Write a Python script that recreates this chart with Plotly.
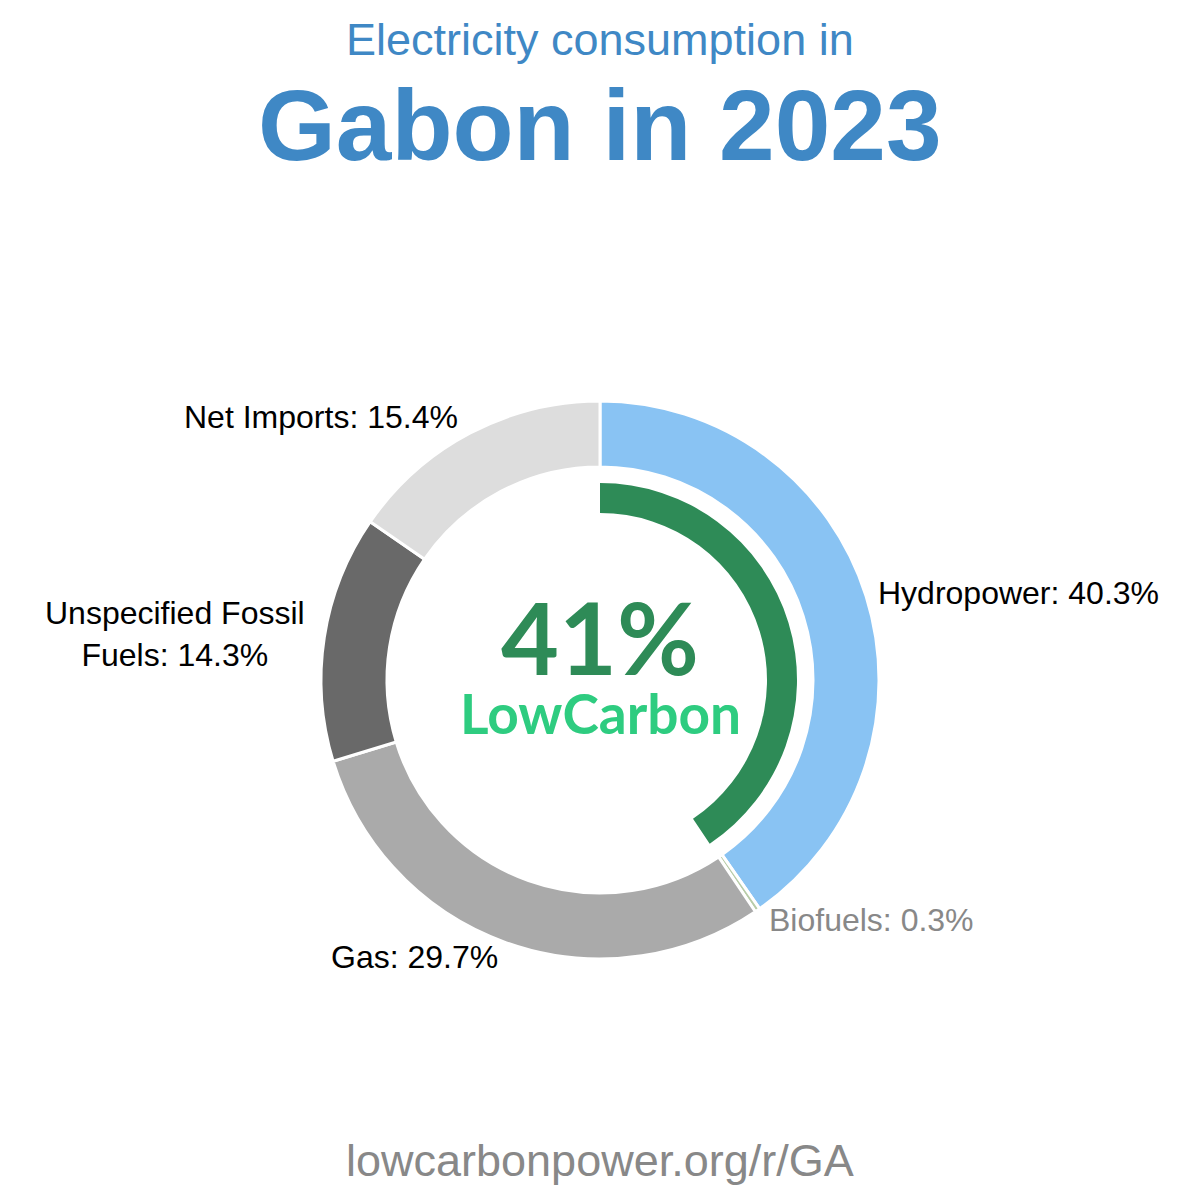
import plotly.graph_objects as go

labels = ["Hydropower", "Biofuels", "Gas", "Unspecified Fossil Fuels", "Net Imports"]
values = [40.3, 0.3, 29.7, 14.3, 15.4]
colors = ["#89C3F3", "#B8CCA8", "#AAAAAA", "#696969", "#DDDDDD"]
low_carbon_share = [40.6, 59.4]
low_carbon_text = "41%"

W = H = 1200
OFF = 8  # page body margin offset
cx, cy = 600 - OFF, 680 - OFF
r_out, r_in = 279, 213
g_out, g_in = 197, 167


def dom(r):
    return dict(x=[(cx - r) / W, (cx + r) / W],
                y=[1 - (cy + r) / H, 1 - (cy - r) / H])


fig = go.Figure()
fig.add_trace(go.Pie(
    labels=labels, values=values, sort=False, direction="clockwise",
    rotation=0, hole=r_in / r_out, domain=dom(r_out),
    marker=dict(colors=colors, line=dict(color="white", width=3)),
    textinfo="none", hoverinfo="label+percent", showlegend=False,
))
fig.add_trace(go.Pie(
    labels=["Low carbon", "Other"], values=low_carbon_share, sort=False,
    direction="clockwise", rotation=0, hole=g_in / g_out, domain=dom(g_out),
    marker=dict(colors=["#2E8B57", "rgba(0,0,0,0)"], line=dict(width=0)),
    textinfo="none", hoverinfo="skip", showlegend=False,
))


def px(x, y):
    return (x - OFF) / W, 1 - (y - OFF) / H


label_font = dict(family="Liberation Sans, Arial", size=32, color="black")
ann = []
lbls = [
    ("Hydropower: 40.3%", 876, 593, "left", "black"),
    ("Biofuels: 0.3%", 767, 920, "left", "#888888"),
    ("Gas: 29.7%", 414, 957, "center", "black"),
    ("Unspecified Fossil<br>Fuels: 14.3%", 175, 634, "center", "black"),
    ("Net Imports: 15.4%", 460, 417, "right", "black"),
]
for t, x, y, al, col in lbls:
    xx, yy = px(x, y)
    ann.append(dict(text=t, x=xx, y=yy, xref="paper", yref="paper",
                    xanchor=al, yanchor="middle", align="center",
                    showarrow=False, font=dict(label_font, color=col)))

xx, yy = px(600, 40)
ann.append(dict(text="Electricity consumption in", x=xx, y=yy, xref="paper", yref="paper",
                xanchor="center", yanchor="middle", showarrow=False,
                font=dict(family="Liberation Sans, Arial", size=45, color="#3F88C5")))
xx, yy = px(600, 125)
ann.append(dict(text="<b>Gabon in 2023</b>", x=xx, y=yy, xref="paper", yref="paper",
                xanchor="center", yanchor="middle", showarrow=False,
                font=dict(family="Liberation Sans, Arial", size=100, color="#3F88C5")))
xx, yy = px(600, 636)
ann.append(dict(text="<b>" + low_carbon_text + "</b>", x=xx, y=yy, xref="paper", yref="paper",
                xanchor="center", yanchor="middle", showarrow=False, borderpad=0,
                font=dict(family="Lato", size=100, color="#2E8B57", weight=900)))
xx, yy = px(600, 713)
ann.append(dict(text="<b>LowCarbon</b>", x=xx, y=yy, xref="paper", yref="paper",
                xanchor="center", yanchor="middle", showarrow=False, borderpad=0,
                font=dict(family="Lato", size=55, color="#2ECC80", weight=900)))
xx, yy = px(600, 1160)
ann.append(dict(text="lowcarbonpower.org/r/GA", x=xx, y=yy, xref="paper", yref="paper",
                xanchor="center", yanchor="middle", showarrow=False,
                font=dict(family="Liberation Sans, Arial", size=45, color="#888888")))

fig.update_layout(width=W, height=H, margin=dict(l=0, r=0, t=0, b=0),
                  paper_bgcolor="white", plot_bgcolor="white", annotations=ann)
fig.write_html("out.html")
